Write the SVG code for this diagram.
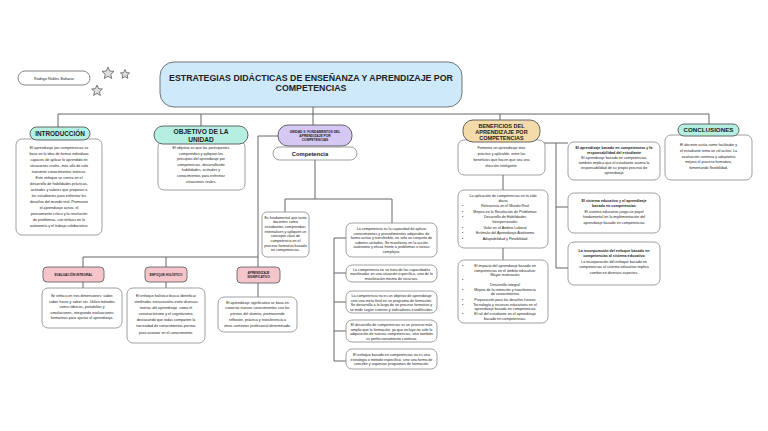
<svg xmlns="http://www.w3.org/2000/svg" width="768" height="431" viewBox="0 0 768 431">
<style>
text{font-family:"Liberation Sans",Arial,sans-serif;fill:#222}
.b{font-size:3.7px;text-anchor:middle}
.bb{font-size:3.7px;text-anchor:middle;font-weight:bold}
.box{fill:#fff;stroke:#888;stroke-width:0.8}
.pm{fill:#b5efe1;stroke:#555;stroke-width:0.9}
.pp{fill:#f6c4cb;stroke:#666;stroke-width:0.9}
.pl{fill:#d5c8f3;stroke:#555;stroke-width:0.9}
.pt{fill:#f4dcaa;stroke:#555;stroke-width:0.9}
.h{font-weight:bold;text-anchor:middle}
.c{fill:none;stroke:#666;stroke-width:1}
.star{fill:#ddd;stroke:#333;stroke-width:0.6}
</style>
<rect width="768" height="431" fill="#fff"/>
<g id="connectors">
<path class="c" d="M58,127 V114 H709 V125"/>
<path class="c" d="M313,107 V125" stroke="#333"/>
<path class="c" d="M201,114 V126" stroke="#222"/>
<path class="c" d="M500,114 V120"/>
<path class="c" d="M278,136 H258 V257 M83,257 H258 M83,257 V267 M166,257 V267 M258,257 V267"/>
<path class="c" d="M83,282 V288 M166,282 V288 M258,283 V297"/>
<path class="c" d="M315,160 V199 M285,199 H392 M285,199 V212 M392,199 V223"/>
<path class="c" d="M346,238 H334 V361 H346 M334,273 H346 M334,302 H346 M334,331 H346"/>
<path class="c" d="M503,175 V190 M503,248 V260"/>
<path class="c" d="M540,143 H568 M556,143 V268 H568 M556,207 H568"/>
</g>
<g id="title">
<rect x="160" y="62" width="302" height="45" rx="14" fill="#cde9fa" stroke="#666" stroke-width="0.9"/>
<text x="311" y="80.5" class="h" font-size="8.8px">ESTRATEGIAS DIDÁCTICAS DE ENSEÑANZA Y APRENDIZAJE POR</text>
<text x="311" y="91" class="h" font-size="8.8px">COMPETENCIAS</text>
</g>
<g id="author">
<rect x="18" y="71" width="72" height="14" rx="7" fill="#fff" stroke="#666" stroke-width="0.8"/>
<text x="54" y="79.6" class="b" font-size="4.2px">Rodrigo Robles Baltazar</text>
</g>
<g id="stars">
<polygon class="star" points="108,67 109.8,71 114,71.4 110.8,74.3 111.8,78.5 108,76.3 104.2,78.5 105.2,74.3 102,71.4 106.2,71"/>
<polygon class="star" points="125,69.5 126.4,72.6 129.6,72.9 127.2,75.1 127.9,78.3 125,76.6 122.1,78.3 122.8,75.1 120.4,72.9 123.6,72.6"/>
<polygon class="star" points="97,85 98.6,88.6 102.4,89 99.5,91.6 100.4,95.4 97,93.4 93.6,95.4 94.5,91.6 91.6,89 95.4,88.6"/>
</g>
<g id="introduccion">
<rect class="box" x="16" y="139" width="86" height="96" rx="6"/>
<rect class="pm" x="30" y="127" width="60" height="13" rx="6.5"/>
<text x="60" y="135.8" class="h" font-size="6.4px">INTRODUCCIÓN</text>
<text class="b" x="59" y="149">El aprendizaje por competencias se</text>
<text class="b" x="59" y="155">basa en la idea de formar individuos</text>
<text class="b" x="59" y="161">capaces de aplicar lo aprendido en</text>
<text class="b" x="59" y="167">situaciones reales, más allá de solo</text>
<text class="b" x="59" y="173">transmitir conocimientos teóricos.</text>
<text class="b" x="59" y="179">Este enfoque se centra en el</text>
<text class="b" x="59" y="185">desarrollo de habilidades prácticas,</text>
<text class="b" x="59" y="191">actitudes y valores que preparan a</text>
<text class="b" x="59" y="197">los estudiantes para enfrentar los</text>
<text class="b" x="59" y="203">desafíos del mundo real. Promueve</text>
<text class="b" x="59" y="209">el aprendizaje activo, el</text>
<text class="b" x="59" y="215">pensamiento crítico y la resolución</text>
<text class="b" x="59" y="221">de problemas, con énfasis en la</text>
<text class="b" x="59" y="227">autonomía y el trabajo colaborativo.</text>
</g>
<g id="objetivo">
<rect class="box" x="158" y="141" width="87" height="49" rx="6"/>
<rect class="pm" x="154" y="126" width="94" height="18" rx="9"/>
<text x="201" y="134" class="h" font-size="6.6px">OBJETIVO DE LA</text>
<text x="201" y="141.5" class="h" font-size="6.6px">UNIDAD</text>
<text class="b" x="201" y="149">El objetivo es que los participantes</text>
<text class="b" x="201" y="154.6">comprendan y apliquen los</text>
<text class="b" x="201" y="160.2">principios del aprendizaje por</text>
<text class="b" x="201" y="165.8">competencias, desarrollando</text>
<text class="b" x="201" y="171.4">habilidades, actitudes y</text>
<text class="b" x="201" y="177">conocimientos para enfrentar</text>
<text class="b" x="201" y="182.6">situaciones reales.</text>
</g>
<g id="unidad">
<rect class="pl" x="278" y="125" width="74" height="21" rx="10"/>
<text x="315" y="133" class="h" font-size="3.3px">UNIDAD II: FUNDAMENTOS DEL</text>
<text x="315" y="137" class="h" font-size="3.3px">APRENDIZAJE POR</text>
<text x="315" y="141" class="h" font-size="3.3px">COMPETENCIAS</text>
</g>
<g id="competencia">
<rect class="box" x="273" y="147" width="84" height="13" rx="6.5" stroke="#666"/>
<text x="310" y="155.5" class="h" font-size="5.8px">Competencia</text>
</g>
<g id="comp-fundamental">
<rect class="box" x="262" y="212" width="47" height="45" rx="5"/>
<text class="b" x="285.5" y="218.5" font-size="3.3px">Es fundamental que tanto</text>
<text class="b" x="285.5" y="223.2" font-size="3.3px">docentes como</text>
<text class="b" x="285.5" y="227.9" font-size="3.3px">estudiantes comprendan,</text>
<text class="b" x="285.5" y="232.6" font-size="3.3px">internalicen y apliquen un</text>
<text class="b" x="285.5" y="237.3" font-size="3.3px">concepto claro de</text>
<text class="b" x="285.5" y="242" font-size="3.3px">competencia en el</text>
<text class="b" x="285.5" y="246.7" font-size="3.3px">proceso formativo basado</text>
<text class="b" x="285.5" y="251.4" font-size="3.3px">en competencias.</text>
</g>
<g id="comp-1">
<rect class="box" x="346" y="223" width="91" height="34" rx="6"/>
<text class="b" x="391.5" y="230" font-size="3.3px">La competencia es la capacidad de aplicar</text>
<text class="b" x="391.5" y="234.5" font-size="3.3px">conocimientos y procedimientos adquiridos de</text>
<text class="b" x="391.5" y="239" font-size="3.3px">forma activa y transferible, no solo un conjunto de</text>
<text class="b" x="391.5" y="243.5" font-size="3.3px">saberes aislados. Se manifiesta en la acción</text>
<text class="b" x="391.5" y="248" font-size="3.3px">autónoma y eficaz frente a problemas o tareas</text>
<text class="b" x="391.5" y="252.5" font-size="3.3px">complejas.</text>
</g>
<g id="comp-2">
<rect class="box" x="346" y="265" width="91" height="17" rx="6"/>
<text class="b" x="391.5" y="270.5" font-size="3.3px">La competencia no se trata de las capacidades</text>
<text class="b" x="391.5" y="275" font-size="3.3px">movilizadas en una situación específica, sino de la</text>
<text class="b" x="391.5" y="279.5" font-size="3.3px">movilización misma de recursos.</text>
</g>
<g id="comp-3">
<rect class="box" x="346" y="291" width="91" height="22" rx="6"/>
<text class="b" x="391.5" y="297" font-size="3.3px">La competencia no es un objetivo de aprendizaje</text>
<text class="b" x="391.5" y="301.5" font-size="3.3px">sino una meta final en un programa de formación.</text>
<text class="b" x="391.5" y="306" font-size="3.3px">Se desarrolla a lo largo de un proceso formativo y</text>
<text class="b" x="391.5" y="310.5" font-size="3.3px">se mide según criterios y indicadores establecidos.</text>
</g>
<g id="comp-4">
<rect class="box" x="346" y="320" width="91" height="22" rx="6"/>
<text class="b" x="391.5" y="326" font-size="3.3px">El desarrollo de competencias es un proceso más</text>
<text class="b" x="391.5" y="330.5" font-size="3.3px">amplio que la formación, ya que incluye no solo la</text>
<text class="b" x="391.5" y="335" font-size="3.3px">adquisición de nuevas competencias, sino también</text>
<text class="b" x="391.5" y="339.5" font-size="3.3px">su perfeccionamiento continuo.</text>
</g>
<g id="comp-5">
<rect class="box" x="346" y="349" width="91" height="20" rx="6"/>
<text class="b" x="391.5" y="356" font-size="3.3px">El enfoque basado en competencias no es una</text>
<text class="b" x="391.5" y="360.5" font-size="3.3px">estrategia o método específico, sino una forma de</text>
<text class="b" x="391.5" y="365" font-size="3.3px">concebir y organizar programas de formación.</text>
</g>
<g id="evaluacion">
<rect class="pp" x="43" y="267" width="61" height="15" rx="4"/>
<text x="73.5" y="275.8" class="h" font-size="3.2px">EVALUACIÓN INTEGRAL</text>
<rect class="box" x="42" y="288" width="80" height="40" rx="6"/>
<text class="b" x="82" y="297" font-size="3.5px">Se enfoca en tres dimensiones: saber,</text>
<text class="b" x="82" y="302.5" font-size="3.5px">saber hacer y saber ser. Utiliza métodos</text>
<text class="b" x="82" y="308" font-size="3.5px">como rúbricas, portafolios y</text>
<text class="b" x="82" y="313.5" font-size="3.5px">simulaciones, integrando evaluaciones</text>
<text class="b" x="82" y="319" font-size="3.5px">formativas para ajustar el aprendizaje.</text>
</g>
<g id="holistico">
<rect class="pp" x="145" y="267" width="42" height="15" rx="4"/>
<text x="166" y="275.8" class="h" font-size="3.1px">ENFOQUE HOLÍSTICO</text>
<rect class="box" x="127" y="288" width="78" height="55" rx="6"/>
<text class="b" x="166" y="297" font-size="3.5px">El enfoque holístico busca identificar</text>
<text class="b" x="166" y="303" font-size="3.5px">similitudes estructurales entre diversas</text>
<text class="b" x="166" y="309" font-size="3.5px">teorías del aprendizaje, como el</text>
<text class="b" x="166" y="315" font-size="3.5px">constructivismo y el cognitivismo,</text>
<text class="b" x="166" y="321" font-size="3.5px">destacando que todas comparten la</text>
<text class="b" x="166" y="327" font-size="3.5px">necesidad de conocimientos previos</text>
<text class="b" x="166" y="334" font-size="3.5px">para avanzar en el conocimiento.</text>
</g>
<g id="significativo">
<rect class="pp" x="237" y="267" width="43" height="16" rx="4"/>
<text x="258.5" y="274.2" class="h" font-size="3.1px">APRENDIZAJE</text>
<text x="258.5" y="278.2" class="h" font-size="3.1px">SIGNIFICATIVO</text>
<rect class="box" x="218" y="297" width="79" height="35" rx="6"/>
<text class="b" x="257.5" y="303.5" font-size="3.5px">El aprendizaje significativo se basa en</text>
<text class="b" x="257.5" y="309.3" font-size="3.5px">conectar nuevos conocimientos con los</text>
<text class="b" x="257.5" y="315.1" font-size="3.5px">previos del alumno, promoviendo</text>
<text class="b" x="257.5" y="320.9" font-size="3.5px">reflexión, práctica y transferencia a</text>
<text class="b" x="257.5" y="326.7" font-size="3.5px">otros contextos profesional determinado.</text>
</g>
<g id="beneficios">
<rect class="box" x="458" y="140" width="87" height="35" rx="6"/>
<rect class="pt" x="463" y="120" width="77" height="22" rx="10"/>
<text x="501.5" y="127.6" class="h" font-size="5.5px">BENEFICIOS DEL</text>
<text x="501.5" y="133.6" class="h" font-size="5.5px">APRENDIZAJE POR</text>
<text x="501.5" y="139.6" class="h" font-size="5.5px">COMPETENCIAS</text>
<text class="b" x="501.5" y="148.5">Fomenta un aprendizaje más</text>
<text class="b" x="501.5" y="154.5">práctico y aplicable, entre los</text>
<text class="b" x="501.5" y="160.5">beneficios que hacen que sea una</text>
<text class="b" x="501.5" y="166.5">elección inteligente.</text>
</g>
<g id="beneficios-vida">
<rect class="box" x="458" y="190" width="90" height="58" rx="6"/>
<text class="b" x="503" y="197" font-size="3.4px">La aplicación de competencias en la vida</text>
<text class="b" x="503" y="202" font-size="3.4px">diaria</text>
<g font-size="3.4px">
<text x="462" y="207">•</text><text class="b" x="505" y="207" font-size="3.4px">Relevancia en el Mundo Real</text>
<text x="462" y="212.5">•</text><text class="b" x="505" y="212.5" font-size="3.4px">Mejora en la Resolución de Problemas</text>
<text x="462" y="218">•</text><text class="b" x="505" y="218" font-size="3.4px">Desarrollo de Habilidades</text>
<text class="b" x="505" y="223" font-size="3.4px">Interpersonales</text>
<text x="462" y="228.5">•</text><text class="b" x="505" y="228.5" font-size="3.4px">Valor en el Ámbito Laboral</text>
<text x="462" y="234">•</text><text class="b" x="505" y="234" font-size="3.4px">Estímulo del Aprendizaje Autónomo</text>
<text x="462" y="239.5">•</text><text class="b" x="505" y="239.5" font-size="3.4px">Adaptabilidad y Flexibilidad</text>
</g>
</g>
<g id="beneficios-impacto">
<rect class="box" x="458" y="260" width="90" height="63" rx="6"/>
<g font-size="3.4px">
<text x="462" y="267">•</text><text class="b" x="505" y="267" font-size="3.4px">El impacto del aprendizaje basado en</text>
<text class="b" x="505" y="271.5" font-size="3.4px">competencias en el ámbito educativo:</text>
<text class="b" x="505" y="276" font-size="3.4px">Mayor motivación</text>
<text x="462" y="281">•</text>
<text class="b" x="505" y="285.5" font-size="3.4px">Desarrollo integral</text>
<text x="462" y="290.5">•</text><text class="b" x="505" y="290.5" font-size="3.4px">Mejora de la retención y transferencia</text>
<text class="b" x="505" y="295" font-size="3.4px">de conocimientos</text>
<text x="462" y="300.5">•</text><text class="b" x="505" y="300.5" font-size="3.4px">Preparación para los desafíos futuros</text>
<text x="462" y="305.5">•</text><text class="b" x="505" y="305.5" font-size="3.4px">Tecnología y recursos educativos en el</text>
<text class="b" x="505" y="310" font-size="3.4px">aprendizaje basado en competencias</text>
<text x="462" y="315">•</text><text class="b" x="505" y="315" font-size="3.4px">El rol del estudiante en el aprendizaje</text>
<text class="b" x="505" y="319.5" font-size="3.4px">basado en competencias.</text>
</g>
</g>
<g id="resp-estudiante">
<rect class="box" x="568" y="142" width="92" height="38" rx="6"/>
<text class="bb" x="614" y="149">El aprendizaje basado en competencias y la</text>
<text class="bb" x="614" y="154">responsabilidad del estudiante</text>
<text class="b" x="614" y="159">El aprendizaje basado en competencias</text>
<text class="b" x="614" y="164">también implica que el estudiante asuma la</text>
<text class="b" x="614" y="169">responsabilidad de su propio proceso de</text>
<text class="b" x="614" y="174">aprendizaje</text>
</g>
<g id="sistema-educativo">
<rect class="box" x="568" y="193" width="92" height="40" rx="6"/>
<text class="bb" x="614" y="202">El sistema educativo y el aprendizaje</text>
<text class="bb" x="614" y="207">basado en competencias</text>
<text class="b" x="614" y="212.5">El sistema educativo juega un papel</text>
<text class="b" x="614" y="218">fundamental en la implementación del</text>
<text class="b" x="614" y="223.5">aprendizaje basado en competencias</text>
</g>
<g id="incorporacion">
<rect class="box" x="568" y="242" width="92" height="43" rx="6"/>
<text class="bb" x="614" y="252">La incorporación del enfoque basado en</text>
<text class="bb" x="614" y="257">competencias al sistema educativo</text>
<text class="b" x="614" y="262.5">La incorporación del enfoque basado en</text>
<text class="b" x="614" y="268">competencias al sistema educativo implica</text>
<text class="b" x="614" y="273.5">cambio en diversos aspectos.</text>
</g>
<g id="conclusiones">
<rect class="box" x="665" y="135" width="87" height="45" rx="6"/>
<rect class="pm" x="678" y="124" width="61" height="12" rx="6"/>
<text x="708.5" y="132.3" class="h" font-size="6.2px">CONCLUSIONES</text>
<text class="b" x="708.5" y="146">El docente actúa como facilitador y</text>
<text class="b" x="708.5" y="151.8">el estudiante toma un rol activo. La</text>
<text class="b" x="708.5" y="157.6">evaluación continua y adaptativa</text>
<text class="b" x="708.5" y="163.4">mejora el proceso formativo,</text>
<text class="b" x="708.5" y="169.2">fomentando flexibilidad.</text>
</g>
</svg>
